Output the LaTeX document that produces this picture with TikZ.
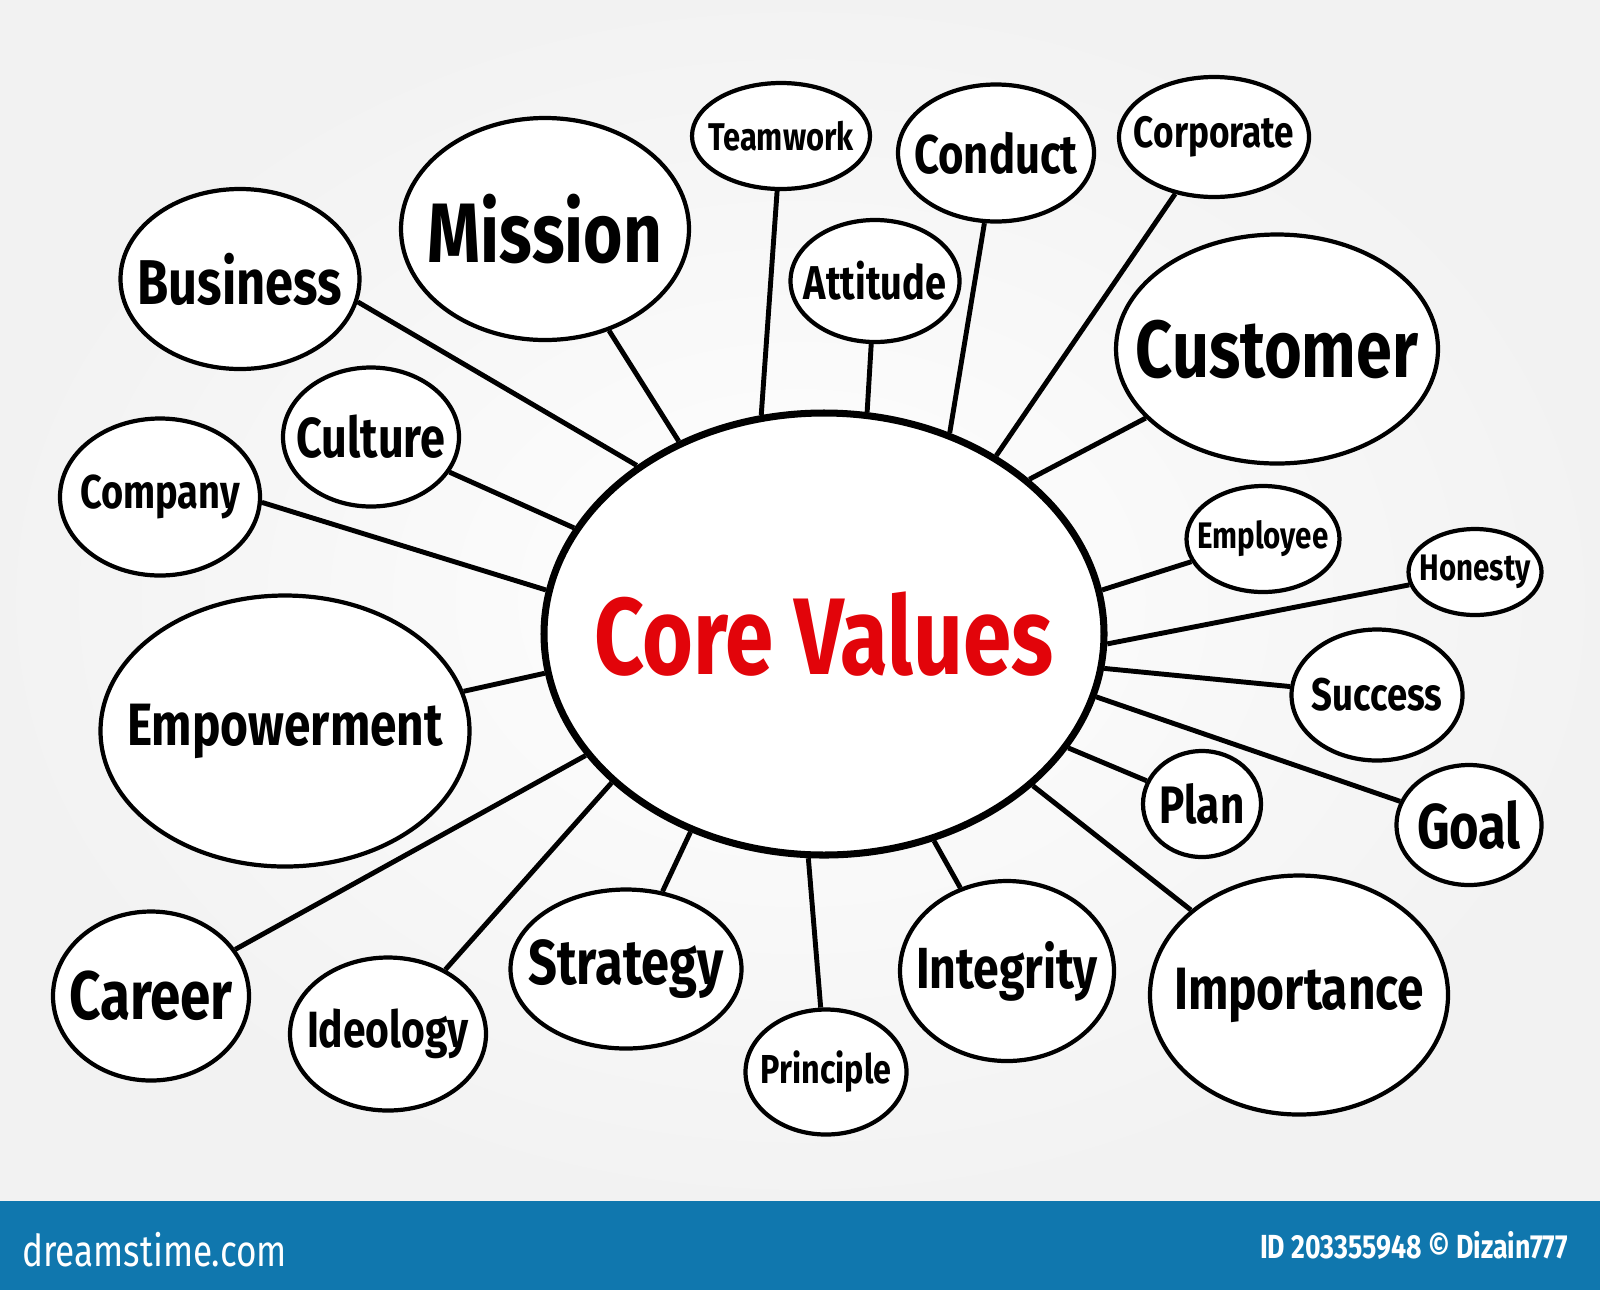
\documentclass[tikz,border=0pt]{standalone}
\usepackage{fontspec}
\usepackage{tikz}
\usetikzlibrary{shapes.geometric}
\newfontfamily\hand{Fira Sans}[FakeStretch=0.8]
\definecolor{banner}{RGB}{16,119,174}
\definecolor{corered}{RGB}{226,4,10}
\newcommand{\tx}[1]{\makebox[0pt]{#1}}

\begin{document}
\begin{tikzpicture}[
    bubble/.style={draw, ellipse, fill=white, line width=1.2pt, inner sep=0pt,
      font=\hand\bfseries\fontsize{#1}{#1}\selectfont},
    link/.style={line width=1.4pt}]%
    \useasboundingbox (0,0) rectangle (16,-12.9);
    \shade[inner color=white, outer color=black!5] (0,0) rectangle (16,-12.01);
    \node (core) [bubble=31, line width=2pt, text=corered, minimum width=5.6cm, minimum height=4.42cm] at (8.24,-6.34) {\tx{Core Values}};
    \node (business) [bubble=18, minimum width=2.39cm, minimum height=1.8cm] at (2.40,-2.79) {\tx{Business}};
    \node (mission) [bubble=24, minimum width=2.88cm, minimum height=2.22cm] at (5.45,-2.29) {\tx{Mission}};
    \node (teamwork) [bubble=11, minimum width=1.78cm, minimum height=1.06cm] at (7.81,-1.36) {\tx{Teamwork}};
    \node (conduct) [bubble=15.5, minimum width=1.96cm, minimum height=1.37cm] at (9.96,-1.53) {\tx{Conduct}};
    \node (corporate) [bubble=12.5, minimum width=1.9cm, minimum height=1.2cm] at (12.14,-1.37) {\tx{Corporate}};
    \node (attitude) [bubble=13.5, minimum width=1.69cm, minimum height=1.22cm] at (8.75,-2.81) {\tx{Attitude}};
    \node (customer) [bubble=23, minimum width=3.22cm, minimum height=2.29cm] at (12.77,-3.49) {\tx{Customer}};
    \node (culture) [bubble=16, minimum width=1.76cm, minimum height=1.39cm] at (3.71,-4.37) {\tx{Culture}};
    \node (company) [bubble=13.5, minimum width=2cm, minimum height=1.57cm] at (1.60,-4.97) {\tx{Company}};
    \node (employee) [bubble=10.5, minimum width=1.53cm, minimum height=1.06cm] at (12.63,-5.39) {\tx{Employee}};
    \node (honesty) [bubble=10.5, minimum width=1.33cm, minimum height=0.86cm] at (14.75,-5.72) {\tx{Honesty}};
    \node (empowerment) [bubble=17, minimum width=3.69cm, minimum height=2.71cm] at (2.85,-7.31) {\tx{Empowerment}};
    \node (success) [bubble=13, minimum width=1.71cm, minimum height=1.31cm] at (13.77,-6.95) {\tx{Success}};
    \node (plan) [bubble=15, minimum width=1.18cm, minimum height=1.06cm] at (12.02,-8.04) {\tx{Plan}};
    \node (goal) [bubble=18, minimum width=1.45cm, minimum height=1.2cm] at (14.69,-8.25) {\tx{Goal}};
    \node (career) [bubble=19.5, minimum width=1.96cm, minimum height=1.69cm] at (1.51,-9.96) {\tx{Career}};
    \node (ideology) [bubble=14.5, minimum width=1.96cm, minimum height=1.53cm] at (3.88,-10.34) {\tx{Ideology}};
    \node (strategy) [bubble=18, minimum width=2.31cm, minimum height=1.59cm] at (6.26,-9.69) {\tx{Strategy}};
    \node (principle) [bubble=11.5, minimum width=1.61cm, minimum height=1.25cm] at (8.26,-10.72) {\tx{Principle}};
    \node (integrity) [bubble=16.5, minimum width=2.14cm, minimum height=1.8cm] at (10.07,-9.71) {\tx{Integrity}};
    \node (importance) [bubble=17, minimum width=2.98cm, minimum height=2.39cm] at (12.99,-9.95) {\tx{Importance}};
    % spokes
    \draw[link] (business.-11) -- (core.138);
    \draw[link] (mission) -- (core.127);
    \draw[link] (teamwork) -- (core.106);
    \draw[link] (attitude) -- (core.79);
    \draw[link] (conduct) -- (core.58);
    \draw[link] (corporate) -- (core.46);
    \draw[link] (customer) -- (core.37);
    \draw[link] (culture) -- (core.157);
    \draw[link] (company.-3) -- (core.171);
    \draw[link] (employee) -- (core.9);
    \draw[link] (honesty) -- (core.-2);
    \draw[link] (empowerment) -- (core.188);
    \draw[link] (success) -- (core.-7);
    \draw[link] (goal) -- (core.-13);
    \draw[link] (plan) -- (core.-25);
    \draw[link] (importance) -- (core.-36);
    \draw[link] (integrity) -- (core.-62);
    \draw[link] (principle) -- (core.-94);
    \draw[link] (strategy) -- (core.-124);
    \draw[link] (ideology) -- (core.-145);
    \draw[link] (career) -- (core.-153);
    % footer
    \fill[banner] (0,-12.01) rectangle (16,-12.9);
    \node (site) [anchor=west, text=white, font=\hand\fontsize{12.5}{12.5}\selectfont] at (0.1,-12.5) {dreamstime.com};
    \node (imgid) [anchor=east, text=white, font=\hand\bfseries\fontsize{9.5}{9.5}\selectfont] at (15.8,-12.45) {ID 203355948 © Dizain777};
\end{tikzpicture}
\end{document}
